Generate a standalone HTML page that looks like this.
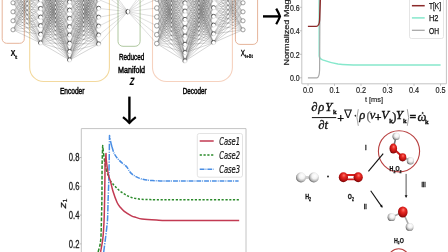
<!DOCTYPE html>
<html><head><meta charset="utf-8"><style>
html,body{margin:0;padding:0;background:#fff;overflow:hidden}
svg{display:block}
</style></head><body>
<svg width="448" height="252" viewBox="0 0 448 252" font-family="Liberation Sans, Arial, sans-serif">
<defs>
<linearGradient id="gn" x1="0.1" y1="0" x2="0.7" y2="1"><stop offset="0" stop-color="#111"/><stop offset="0.4" stop-color="#444"/><stop offset="0.75" stop-color="#bbb"/><stop offset="1" stop-color="#eee"/></linearGradient>
<linearGradient id="gb" x1="0" y1="0" x2="1" y2="0"><stop offset="0" stop-color="#222"/><stop offset="0.3" stop-color="#444"/><stop offset="0.6" stop-color="#ccc"/><stop offset="1" stop-color="#999"/></linearGradient>
<radialGradient id="gw" cx="0.58" cy="0.4" r="0.62" fx="0.6" fy="0.32"><stop offset="0" stop-color="#ffffff"/><stop offset="0.45" stop-color="#f2f2f2"/><stop offset="0.78" stop-color="#b4b4b4"/><stop offset="1" stop-color="#606060"/></radialGradient>
<radialGradient id="gr" cx="0.55" cy="0.4" r="0.6" fx="0.55" fy="0.3"><stop offset="0" stop-color="#ff7a70"/><stop offset="0.35" stop-color="#e82a24"/><stop offset="0.75" stop-color="#b81010"/><stop offset="1" stop-color="#700404"/></radialGradient>
</defs>
<rect width="448" height="252" fill="#fff"/>
<!-- network -->
<g fill="none" stroke-linecap="round">
<rect x="2.2" y="-20" width="22.1" height="63.3" rx="4.5" stroke="#e6b49a" stroke-width="1"/>
<rect x="29.7" y="-30" width="79.7" height="111.5" rx="14" stroke="#f3d99e" stroke-width="1.1"/>
<rect x="118" y="-20" width="22.1" height="66.3" rx="5" stroke="#b0c8a0" stroke-width="1"/>
<rect x="152.5" y="-30" width="79.9" height="111.5" rx="14" stroke="#f6d2bf" stroke-width="1.1"/>
<rect x="235.4" y="-20" width="22.2" height="64.4" rx="4.5" stroke="#e6b49a" stroke-width="1"/>
</g>
<path d="M13 -15.2L40.6 -25.8M13 -15.2L40.6 -17.2M13 -15.2L40.6 -8.6M13 -15.2L40.6 0M13 -15.2L40.6 8.6M13 -15.2L40.6 17.2M13 -15.2L40.6 25.8M13 -15.2L40.6 34.4M13 -15.2L40.6 43M13 -6.2L40.6 -25.8M13 -6.2L40.6 -17.2M13 -6.2L40.6 -8.6M13 -6.2L40.6 0M13 -6.2L40.6 8.6M13 -6.2L40.6 17.2M13 -6.2L40.6 25.8M13 -6.2L40.6 34.4M13 -6.2L40.6 43M13 2.8L40.6 -25.8M13 2.8L40.6 -17.2M13 2.8L40.6 -8.6M13 2.8L40.6 0M13 2.8L40.6 8.6M13 2.8L40.6 17.2M13 2.8L40.6 25.8M13 2.8L40.6 34.4M13 2.8L40.6 43M13 11.8L40.6 -25.8M13 11.8L40.6 -17.2M13 11.8L40.6 -8.6M13 11.8L40.6 0M13 11.8L40.6 8.6M13 11.8L40.6 17.2M13 11.8L40.6 25.8M13 11.8L40.6 34.4M13 11.8L40.6 43M13 20.8L40.6 -25.8M13 20.8L40.6 -17.2M13 20.8L40.6 -8.6M13 20.8L40.6 0M13 20.8L40.6 8.6M13 20.8L40.6 17.2M13 20.8L40.6 25.8M13 20.8L40.6 34.4M13 20.8L40.6 43M13 29.8L40.6 -25.8M13 29.8L40.6 -17.2M13 29.8L40.6 -8.6M13 29.8L40.6 0M13 29.8L40.6 8.6M13 29.8L40.6 17.2M13 29.8L40.6 25.8M13 29.8L40.6 34.4M13 29.8L40.6 43M40.6 -25.8L69.6 -31.3M40.6 -25.8L69.6 -23M40.6 -25.8L69.6 -14.7M40.6 -25.8L69.6 -6.4M40.6 -25.8L69.6 1.9M40.6 -25.8L69.6 10.2M40.6 -25.8L69.6 18.5M40.6 -25.8L69.6 26.8M40.6 -25.8L69.6 35.1M40.6 -25.8L69.6 43.4M40.6 -25.8L69.6 51.7M40.6 -25.8L69.6 60M40.6 -17.2L69.6 -31.3M40.6 -17.2L69.6 -23M40.6 -17.2L69.6 -14.7M40.6 -17.2L69.6 -6.4M40.6 -17.2L69.6 1.9M40.6 -17.2L69.6 10.2M40.6 -17.2L69.6 18.5M40.6 -17.2L69.6 26.8M40.6 -17.2L69.6 35.1M40.6 -17.2L69.6 43.4M40.6 -17.2L69.6 51.7M40.6 -17.2L69.6 60M40.6 -8.6L69.6 -31.3M40.6 -8.6L69.6 -23M40.6 -8.6L69.6 -14.7M40.6 -8.6L69.6 -6.4M40.6 -8.6L69.6 1.9M40.6 -8.6L69.6 10.2M40.6 -8.6L69.6 18.5M40.6 -8.6L69.6 26.8M40.6 -8.6L69.6 35.1M40.6 -8.6L69.6 43.4M40.6 -8.6L69.6 51.7M40.6 -8.6L69.6 60M40.6 0L69.6 -31.3M40.6 0L69.6 -23M40.6 0L69.6 -14.7M40.6 0L69.6 -6.4M40.6 0L69.6 1.9M40.6 0L69.6 10.2M40.6 0L69.6 18.5M40.6 0L69.6 26.8M40.6 0L69.6 35.1M40.6 0L69.6 43.4M40.6 0L69.6 51.7M40.6 0L69.6 60M40.6 8.6L69.6 -31.3M40.6 8.6L69.6 -23M40.6 8.6L69.6 -14.7M40.6 8.6L69.6 -6.4M40.6 8.6L69.6 1.9M40.6 8.6L69.6 10.2M40.6 8.6L69.6 18.5M40.6 8.6L69.6 26.8M40.6 8.6L69.6 35.1M40.6 8.6L69.6 43.4M40.6 8.6L69.6 51.7M40.6 8.6L69.6 60M40.6 17.2L69.6 -31.3M40.6 17.2L69.6 -23M40.6 17.2L69.6 -14.7M40.6 17.2L69.6 -6.4M40.6 17.2L69.6 1.9M40.6 17.2L69.6 10.2M40.6 17.2L69.6 18.5M40.6 17.2L69.6 26.8M40.6 17.2L69.6 35.1M40.6 17.2L69.6 43.4M40.6 17.2L69.6 51.7M40.6 17.2L69.6 60M40.6 25.8L69.6 -31.3M40.6 25.8L69.6 -23M40.6 25.8L69.6 -14.7M40.6 25.8L69.6 -6.4M40.6 25.8L69.6 1.9M40.6 25.8L69.6 10.2M40.6 25.8L69.6 18.5M40.6 25.8L69.6 26.8M40.6 25.8L69.6 35.1M40.6 25.8L69.6 43.4M40.6 25.8L69.6 51.7M40.6 25.8L69.6 60M40.6 34.4L69.6 -31.3M40.6 34.4L69.6 -23M40.6 34.4L69.6 -14.7M40.6 34.4L69.6 -6.4M40.6 34.4L69.6 1.9M40.6 34.4L69.6 10.2M40.6 34.4L69.6 18.5M40.6 34.4L69.6 26.8M40.6 34.4L69.6 35.1M40.6 34.4L69.6 43.4M40.6 34.4L69.6 51.7M40.6 34.4L69.6 60M40.6 43L69.6 -31.3M40.6 43L69.6 -23M40.6 43L69.6 -14.7M40.6 43L69.6 -6.4M40.6 43L69.6 1.9M40.6 43L69.6 10.2M40.6 43L69.6 18.5M40.6 43L69.6 26.8M40.6 43L69.6 35.1M40.6 43L69.6 43.4M40.6 43L69.6 51.7M40.6 43L69.6 60M69.6 -31.3L98.7 -27.2M69.6 -31.3L98.7 -18.3M69.6 -31.3L98.7 -9.4M69.6 -31.3L98.7 -0.5M69.6 -31.3L98.7 8.4M69.6 -31.3L98.7 17.3M69.6 -31.3L98.7 26.2M69.6 -31.3L98.7 35.1M69.6 -31.3L98.7 44M69.6 -23L98.7 -27.2M69.6 -23L98.7 -18.3M69.6 -23L98.7 -9.4M69.6 -23L98.7 -0.5M69.6 -23L98.7 8.4M69.6 -23L98.7 17.3M69.6 -23L98.7 26.2M69.6 -23L98.7 35.1M69.6 -23L98.7 44M69.6 -14.7L98.7 -27.2M69.6 -14.7L98.7 -18.3M69.6 -14.7L98.7 -9.4M69.6 -14.7L98.7 -0.5M69.6 -14.7L98.7 8.4M69.6 -14.7L98.7 17.3M69.6 -14.7L98.7 26.2M69.6 -14.7L98.7 35.1M69.6 -14.7L98.7 44M69.6 -6.4L98.7 -27.2M69.6 -6.4L98.7 -18.3M69.6 -6.4L98.7 -9.4M69.6 -6.4L98.7 -0.5M69.6 -6.4L98.7 8.4M69.6 -6.4L98.7 17.3M69.6 -6.4L98.7 26.2M69.6 -6.4L98.7 35.1M69.6 -6.4L98.7 44M69.6 1.9L98.7 -27.2M69.6 1.9L98.7 -18.3M69.6 1.9L98.7 -9.4M69.6 1.9L98.7 -0.5M69.6 1.9L98.7 8.4M69.6 1.9L98.7 17.3M69.6 1.9L98.7 26.2M69.6 1.9L98.7 35.1M69.6 1.9L98.7 44M69.6 10.2L98.7 -27.2M69.6 10.2L98.7 -18.3M69.6 10.2L98.7 -9.4M69.6 10.2L98.7 -0.5M69.6 10.2L98.7 8.4M69.6 10.2L98.7 17.3M69.6 10.2L98.7 26.2M69.6 10.2L98.7 35.1M69.6 10.2L98.7 44M69.6 18.5L98.7 -27.2M69.6 18.5L98.7 -18.3M69.6 18.5L98.7 -9.4M69.6 18.5L98.7 -0.5M69.6 18.5L98.7 8.4M69.6 18.5L98.7 17.3M69.6 18.5L98.7 26.2M69.6 18.5L98.7 35.1M69.6 18.5L98.7 44M69.6 26.8L98.7 -27.2M69.6 26.8L98.7 -18.3M69.6 26.8L98.7 -9.4M69.6 26.8L98.7 -0.5M69.6 26.8L98.7 8.4M69.6 26.8L98.7 17.3M69.6 26.8L98.7 26.2M69.6 26.8L98.7 35.1M69.6 26.8L98.7 44M69.6 35.1L98.7 -27.2M69.6 35.1L98.7 -18.3M69.6 35.1L98.7 -9.4M69.6 35.1L98.7 -0.5M69.6 35.1L98.7 8.4M69.6 35.1L98.7 17.3M69.6 35.1L98.7 26.2M69.6 35.1L98.7 35.1M69.6 35.1L98.7 44M69.6 43.4L98.7 -27.2M69.6 43.4L98.7 -18.3M69.6 43.4L98.7 -9.4M69.6 43.4L98.7 -0.5M69.6 43.4L98.7 8.4M69.6 43.4L98.7 17.3M69.6 43.4L98.7 26.2M69.6 43.4L98.7 35.1M69.6 43.4L98.7 44M69.6 51.7L98.7 -27.2M69.6 51.7L98.7 -18.3M69.6 51.7L98.7 -9.4M69.6 51.7L98.7 -0.5M69.6 51.7L98.7 8.4M69.6 51.7L98.7 17.3M69.6 51.7L98.7 26.2M69.6 51.7L98.7 35.1M69.6 51.7L98.7 44M69.6 60L98.7 -27.2M69.6 60L98.7 -18.3M69.6 60L98.7 -9.4M69.6 60L98.7 -0.5M69.6 60L98.7 8.4M69.6 60L98.7 17.3M69.6 60L98.7 26.2M69.6 60L98.7 35.1M69.6 60L98.7 44M156.8 -27.6L185 -30.3M156.8 -27.6L185 -22M156.8 -27.6L185 -13.7M156.8 -27.6L185 -5.4M156.8 -27.6L185 2.9M156.8 -27.6L185 11.2M156.8 -27.6L185 19.5M156.8 -27.6L185 27.8M156.8 -27.6L185 36.1M156.8 -27.6L185 44.4M156.8 -27.6L185 52.7M156.8 -27.6L185 61M156.8 -18.7L185 -30.3M156.8 -18.7L185 -22M156.8 -18.7L185 -13.7M156.8 -18.7L185 -5.4M156.8 -18.7L185 2.9M156.8 -18.7L185 11.2M156.8 -18.7L185 19.5M156.8 -18.7L185 27.8M156.8 -18.7L185 36.1M156.8 -18.7L185 44.4M156.8 -18.7L185 52.7M156.8 -18.7L185 61M156.8 -9.8L185 -30.3M156.8 -9.8L185 -22M156.8 -9.8L185 -13.7M156.8 -9.8L185 -5.4M156.8 -9.8L185 2.9M156.8 -9.8L185 11.2M156.8 -9.8L185 19.5M156.8 -9.8L185 27.8M156.8 -9.8L185 36.1M156.8 -9.8L185 44.4M156.8 -9.8L185 52.7M156.8 -9.8L185 61M156.8 -0.9L185 -30.3M156.8 -0.9L185 -22M156.8 -0.9L185 -13.7M156.8 -0.9L185 -5.4M156.8 -0.9L185 2.9M156.8 -0.9L185 11.2M156.8 -0.9L185 19.5M156.8 -0.9L185 27.8M156.8 -0.9L185 36.1M156.8 -0.9L185 44.4M156.8 -0.9L185 52.7M156.8 -0.9L185 61M156.8 8L185 -30.3M156.8 8L185 -22M156.8 8L185 -13.7M156.8 8L185 -5.4M156.8 8L185 2.9M156.8 8L185 11.2M156.8 8L185 19.5M156.8 8L185 27.8M156.8 8L185 36.1M156.8 8L185 44.4M156.8 8L185 52.7M156.8 8L185 61M156.8 16.9L185 -30.3M156.8 16.9L185 -22M156.8 16.9L185 -13.7M156.8 16.9L185 -5.4M156.8 16.9L185 2.9M156.8 16.9L185 11.2M156.8 16.9L185 19.5M156.8 16.9L185 27.8M156.8 16.9L185 36.1M156.8 16.9L185 44.4M156.8 16.9L185 52.7M156.8 16.9L185 61M156.8 25.8L185 -30.3M156.8 25.8L185 -22M156.8 25.8L185 -13.7M156.8 25.8L185 -5.4M156.8 25.8L185 2.9M156.8 25.8L185 11.2M156.8 25.8L185 19.5M156.8 25.8L185 27.8M156.8 25.8L185 36.1M156.8 25.8L185 44.4M156.8 25.8L185 52.7M156.8 25.8L185 61M156.8 34.7L185 -30.3M156.8 34.7L185 -22M156.8 34.7L185 -13.7M156.8 34.7L185 -5.4M156.8 34.7L185 2.9M156.8 34.7L185 11.2M156.8 34.7L185 19.5M156.8 34.7L185 27.8M156.8 34.7L185 36.1M156.8 34.7L185 44.4M156.8 34.7L185 52.7M156.8 34.7L185 61M156.8 43.6L185 -30.3M156.8 43.6L185 -22M156.8 43.6L185 -13.7M156.8 43.6L185 -5.4M156.8 43.6L185 2.9M156.8 43.6L185 11.2M156.8 43.6L185 19.5M156.8 43.6L185 27.8M156.8 43.6L185 36.1M156.8 43.6L185 44.4M156.8 43.6L185 52.7M156.8 43.6L185 61M185 -30.3L213.6 -27M185 -30.3L213.6 -18.3M185 -30.3L213.6 -9.6M185 -30.3L213.6 -0.9M185 -30.3L213.6 7.8M185 -30.3L213.6 16.5M185 -30.3L213.6 25.2M185 -30.3L213.6 33.9M185 -30.3L213.6 42.6M185 -22L213.6 -27M185 -22L213.6 -18.3M185 -22L213.6 -9.6M185 -22L213.6 -0.9M185 -22L213.6 7.8M185 -22L213.6 16.5M185 -22L213.6 25.2M185 -22L213.6 33.9M185 -22L213.6 42.6M185 -13.7L213.6 -27M185 -13.7L213.6 -18.3M185 -13.7L213.6 -9.6M185 -13.7L213.6 -0.9M185 -13.7L213.6 7.8M185 -13.7L213.6 16.5M185 -13.7L213.6 25.2M185 -13.7L213.6 33.9M185 -13.7L213.6 42.6M185 -5.4L213.6 -27M185 -5.4L213.6 -18.3M185 -5.4L213.6 -9.6M185 -5.4L213.6 -0.9M185 -5.4L213.6 7.8M185 -5.4L213.6 16.5M185 -5.4L213.6 25.2M185 -5.4L213.6 33.9M185 -5.4L213.6 42.6M185 2.9L213.6 -27M185 2.9L213.6 -18.3M185 2.9L213.6 -9.6M185 2.9L213.6 -0.9M185 2.9L213.6 7.8M185 2.9L213.6 16.5M185 2.9L213.6 25.2M185 2.9L213.6 33.9M185 2.9L213.6 42.6M185 11.2L213.6 -27M185 11.2L213.6 -18.3M185 11.2L213.6 -9.6M185 11.2L213.6 -0.9M185 11.2L213.6 7.8M185 11.2L213.6 16.5M185 11.2L213.6 25.2M185 11.2L213.6 33.9M185 11.2L213.6 42.6M185 19.5L213.6 -27M185 19.5L213.6 -18.3M185 19.5L213.6 -9.6M185 19.5L213.6 -0.9M185 19.5L213.6 7.8M185 19.5L213.6 16.5M185 19.5L213.6 25.2M185 19.5L213.6 33.9M185 19.5L213.6 42.6M185 27.8L213.6 -27M185 27.8L213.6 -18.3M185 27.8L213.6 -9.6M185 27.8L213.6 -0.9M185 27.8L213.6 7.8M185 27.8L213.6 16.5M185 27.8L213.6 25.2M185 27.8L213.6 33.9M185 27.8L213.6 42.6M185 36.1L213.6 -27M185 36.1L213.6 -18.3M185 36.1L213.6 -9.6M185 36.1L213.6 -0.9M185 36.1L213.6 7.8M185 36.1L213.6 16.5M185 36.1L213.6 25.2M185 36.1L213.6 33.9M185 36.1L213.6 42.6M185 44.4L213.6 -27M185 44.4L213.6 -18.3M185 44.4L213.6 -9.6M185 44.4L213.6 -0.9M185 44.4L213.6 7.8M185 44.4L213.6 16.5M185 44.4L213.6 25.2M185 44.4L213.6 33.9M185 44.4L213.6 42.6M185 52.7L213.6 -27M185 52.7L213.6 -18.3M185 52.7L213.6 -9.6M185 52.7L213.6 -0.9M185 52.7L213.6 7.8M185 52.7L213.6 16.5M185 52.7L213.6 25.2M185 52.7L213.6 33.9M185 52.7L213.6 42.6M185 61L213.6 -27M185 61L213.6 -18.3M185 61L213.6 -9.6M185 61L213.6 -0.9M185 61L213.6 7.8M185 61L213.6 16.5M185 61L213.6 25.2M185 61L213.6 33.9M185 61L213.6 42.6M213.6 -27L243 -15.2M213.6 -27L243 -6.2M213.6 -27L243 2.8M213.6 -27L243 11.8M213.6 -27L243 20.8M213.6 -27L243 29.8M213.6 -18.3L243 -15.2M213.6 -18.3L243 -6.2M213.6 -18.3L243 2.8M213.6 -18.3L243 11.8M213.6 -18.3L243 20.8M213.6 -18.3L243 29.8M213.6 -9.6L243 -15.2M213.6 -9.6L243 -6.2M213.6 -9.6L243 2.8M213.6 -9.6L243 11.8M213.6 -9.6L243 20.8M213.6 -9.6L243 29.8M213.6 -0.9L243 -15.2M213.6 -0.9L243 -6.2M213.6 -0.9L243 2.8M213.6 -0.9L243 11.8M213.6 -0.9L243 20.8M213.6 -0.9L243 29.8M213.6 7.8L243 -15.2M213.6 7.8L243 -6.2M213.6 7.8L243 2.8M213.6 7.8L243 11.8M213.6 7.8L243 20.8M213.6 7.8L243 29.8M213.6 16.5L243 -15.2M213.6 16.5L243 -6.2M213.6 16.5L243 2.8M213.6 16.5L243 11.8M213.6 16.5L243 20.8M213.6 16.5L243 29.8M213.6 25.2L243 -15.2M213.6 25.2L243 -6.2M213.6 25.2L243 2.8M213.6 25.2L243 11.8M213.6 25.2L243 20.8M213.6 25.2L243 29.8M213.6 33.9L243 -15.2M213.6 33.9L243 -6.2M213.6 33.9L243 2.8M213.6 33.9L243 11.8M213.6 33.9L243 20.8M213.6 33.9L243 29.8M213.6 42.6L243 -15.2M213.6 42.6L243 -6.2M213.6 42.6L243 2.8M213.6 42.6L243 11.8M213.6 42.6L243 20.8M213.6 42.6L243 29.8" stroke="#555" stroke-opacity="0.5" stroke-width="0.5" fill="none"/>
<path d="M98.7 -27.2L127.9 11.7M98.7 -18.3L127.9 11.7M98.7 -9.4L127.9 11.7M98.7 -0.5L127.9 11.7M98.7 8.4L127.9 11.7M98.7 17.3L127.9 11.7M98.7 26.2L127.9 11.7M98.7 35.1L127.9 11.7M98.7 44L127.9 11.7M127.9 11.7L156.8 -27.6M127.9 11.7L156.8 -18.7M127.9 11.7L156.8 -9.8M127.9 11.7L156.8 -0.9M127.9 11.7L156.8 8M127.9 11.7L156.8 16.9M127.9 11.7L156.8 25.8M127.9 11.7L156.8 34.7M127.9 11.7L156.8 43.6" stroke="#555" stroke-opacity="0.36" stroke-width="0.5" fill="none"/>
<g fill="#fff" stroke="url(#gn)" stroke-width="0.75"><circle cx="13" cy="2.8" r="2.1" fill="#fff" stroke="#777" stroke-width="0.7"/><circle cx="13" cy="11.8" r="2.1" fill="#fff" stroke="#777" stroke-width="0.7"/><circle cx="13" cy="20.8" r="2.1" fill="#fff" stroke="#777" stroke-width="0.7"/><circle cx="13" cy="29.8" r="2.1" fill="#fff" stroke="#777" stroke-width="0.7"/><circle cx="40.6" cy="0" r="2.15"/><circle cx="40.6" cy="8.6" r="2.15"/><circle cx="40.6" cy="17.2" r="2.15"/><circle cx="40.6" cy="25.8" r="2.15"/><circle cx="40.6" cy="34.4" r="2.15"/><circle cx="40.6" cy="43" r="2.15"/><circle cx="69.6" cy="1.9" r="2.15"/><circle cx="69.6" cy="10.2" r="2.15"/><circle cx="69.6" cy="18.5" r="2.15"/><circle cx="69.6" cy="26.8" r="2.15"/><circle cx="69.6" cy="35.1" r="2.15"/><circle cx="69.6" cy="43.4" r="2.15"/><circle cx="69.6" cy="51.7" r="2.15"/><circle cx="69.6" cy="60" r="2.15"/><circle cx="98.7" cy="-0.5" r="2.15"/><circle cx="98.7" cy="8.4" r="2.15"/><circle cx="98.7" cy="17.3" r="2.15"/><circle cx="98.7" cy="26.2" r="2.15"/><circle cx="98.7" cy="35.1" r="2.15"/><circle cx="98.7" cy="44" r="2.15"/><ellipse cx="127.9" cy="11.7" rx="1.9" ry="2.4" fill="#fff" stroke="url(#gb)" stroke-width="1"/><circle cx="156.8" cy="-0.9" r="2.3" fill="#fff" stroke="#777" stroke-width="0.7"/><circle cx="156.8" cy="8" r="2.3" fill="#fff" stroke="#777" stroke-width="0.7"/><circle cx="156.8" cy="16.9" r="2.3" fill="#fff" stroke="#777" stroke-width="0.7"/><circle cx="156.8" cy="25.8" r="2.3" fill="#fff" stroke="#777" stroke-width="0.7"/><circle cx="156.8" cy="34.7" r="2.3" fill="#fff" stroke="#777" stroke-width="0.7"/><circle cx="156.8" cy="43.6" r="2.3" fill="#fff" stroke="#777" stroke-width="0.7"/><circle cx="185" cy="2.9" r="2.15"/><circle cx="185" cy="11.2" r="2.15"/><circle cx="185" cy="19.5" r="2.15"/><circle cx="185" cy="27.8" r="2.15"/><circle cx="185" cy="36.1" r="2.15"/><circle cx="185" cy="44.4" r="2.15"/><circle cx="185" cy="52.7" r="2.15"/><circle cx="185" cy="61" r="2.15"/><circle cx="213.6" cy="-0.9" r="2.15"/><circle cx="213.6" cy="7.8" r="2.15"/><circle cx="213.6" cy="16.5" r="2.15"/><circle cx="213.6" cy="25.2" r="2.15"/><circle cx="213.6" cy="33.9" r="2.15"/><circle cx="213.6" cy="42.6" r="2.15"/><circle cx="243" cy="2.8" r="2.1" fill="#fff" stroke="#777" stroke-width="0.7"/><circle cx="243" cy="11.8" r="2.1" fill="#fff" stroke="#777" stroke-width="0.7"/><circle cx="243" cy="20.8" r="2.1" fill="#fff" stroke="#777" stroke-width="0.7"/><circle cx="243" cy="29.8" r="2.1" fill="#fff" stroke="#777" stroke-width="0.7"/></g>
<!-- labels -->
<g fill="#000" stroke="#000" stroke-width="0.2">
<text x="10.8" y="55.8" font-size="9.4" textLength="4.6" lengthAdjust="spacingAndGlyphs" font-weight="bold">X</text>
<text x="14.9" y="58.8" font-size="5.8" textLength="2.2" lengthAdjust="spacingAndGlyphs" font-weight="bold">t</text>
<text x="59.9" y="93.8" font-size="8.8" textLength="24.5" lengthAdjust="spacingAndGlyphs" stroke-width="0.45">Encoder</text>
<text x="118.9" y="59.8" font-size="8.8" textLength="25.3" lengthAdjust="spacingAndGlyphs" stroke-width="0.45">Reduced</text>
<text x="117.9" y="72.7" font-size="8.8" textLength="27.2" lengthAdjust="spacingAndGlyphs" stroke-width="0.45">Manifold</text>
<text x="0" y="0" transform="translate(129.3 84.8) skewX(-9)" font-size="10.4" textLength="4.5" lengthAdjust="spacingAndGlyphs" font-weight="bold">Z</text>
<text x="182.8" y="93.8" font-size="8.8" textLength="23.8" lengthAdjust="spacingAndGlyphs" stroke-width="0.45">Decoder</text>
<text x="240.7" y="55.8" font-size="9.8" textLength="4.2" lengthAdjust="spacingAndGlyphs" stroke-width="0.35">X</text>
<text x="244.9" y="58.4" font-size="5.4" textLength="8" lengthAdjust="spacingAndGlyphs" font-weight="bold">t+δt</text>
</g>
<!-- arrows -->
<g stroke="#000" fill="none" stroke-width="2.4" stroke-linecap="butt">
<path d="M263 16.4H279.2"/>
<path d="M276.2 8.6Q278.8 13 280 16.4Q278.8 19.8 276.2 24.2" stroke-width="2.2"/>
<path d="M129.4 96.6V122"/>
<path d="M123 117.2Q126.6 120 129.4 123Q132.2 120 135.8 117.2" stroke-width="2.2"/>
</g>
<!-- ===== top-right plot ===== -->
<g>
<path d="M301.8 -5V83.8H446.4V-5" fill="none" stroke="#c4c4c4" stroke-width="1"/>
<g stroke="#aaa" stroke-width="0.7">
<path d="M299.6 77.8h2.2M299.6 54.3h2.2M299.6 30.8h2.2M299.6 7.3h2.2"/>
<path d="M308 83.8v2M334.5 83.8v2M361 83.8v2M387.5 83.8v2M414 83.8v2M440.5 83.8v2"/>
</g>
<g font-size="8.8" fill="#1a1a1a" stroke="#1a1a1a" stroke-width="0.2" text-anchor="end">
<text x="299.6" y="81" textLength="9.7" lengthAdjust="spacingAndGlyphs">0.0</text>
<text x="299.6" y="57.5" textLength="9.7" lengthAdjust="spacingAndGlyphs">0.2</text>
<text x="299.6" y="34" textLength="9.7" lengthAdjust="spacingAndGlyphs">0.4</text>
<text x="299.6" y="10.5" textLength="9.7" lengthAdjust="spacingAndGlyphs">0.6</text>
</g>
<g font-size="8.8" fill="#1a1a1a" stroke="#1a1a1a" stroke-width="0.15" text-anchor="middle">
<text x="308" y="93.1" textLength="10.2" lengthAdjust="spacingAndGlyphs">0.0</text>
<text x="334.5" y="93.1" textLength="10.2" lengthAdjust="spacingAndGlyphs">0.1</text>
<text x="361" y="93.1" textLength="10.2" lengthAdjust="spacingAndGlyphs">0.2</text>
<text x="387.5" y="93.1" textLength="10.2" lengthAdjust="spacingAndGlyphs">0.3</text>
<text x="414" y="93.1" textLength="10.2" lengthAdjust="spacingAndGlyphs">0.4</text>
<text x="440.5" y="93.1" textLength="10.2" lengthAdjust="spacingAndGlyphs">0.5</text>
<text x="374" y="102.4" font-size="7.4">t [ms]</text>
</g>
<text transform="translate(288.6 65.6) rotate(-90) scale(1 0.8)" font-size="9.1" fill="#1a1a1a" stroke="#1a1a1a" stroke-width="0.25">Normalized Magnitude</text>
<g fill="none" stroke-width="1.5" stroke-linejoin="round">
<path d="M319.2 -5V56Q319.4 58.6 322.6 59.9Q330 62.7 338 63.9Q346 64.9 360 64.9H440.6" stroke="#86e8cc"/>
<path d="M307.9 77.9H316.8Q319.3 77.9 319.6 70L320 -5" stroke="#a8a8a8" stroke-width="1.2"/>
<path d="M307.9 26.4H316.2Q319.2 26.4 319.6 20L320.5 -5" stroke="#8c2a2a" stroke-width="1.4"/>
</g>
<rect x="409.5" y="-6" width="34" height="44.5" rx="2" fill="#fff" fill-opacity="0.9" stroke="#dedede" stroke-width="0.8"/>
<g stroke-width="1.5">
<path d="M411.9 5.7H424.7" stroke="#8c2a2a"/>
<path d="M411.9 17.9H424.7" stroke="#86e8cc"/>
<path d="M411.9 30.3H424.7" stroke="#a8a8a8" stroke-width="1.3"/>
</g>
<g font-size="8.8" fill="#111" stroke="#111" stroke-width="0.25">
<text x="429" y="8.9" textLength="12" lengthAdjust="spacingAndGlyphs">T[K]</text>
<text x="429" y="21.1" textLength="9.5" lengthAdjust="spacingAndGlyphs">H2</text>
<text x="429" y="33.5" textLength="10" lengthAdjust="spacingAndGlyphs">OH</text>
</g>
</g>
<!-- ===== equation ===== -->
<g font-family="Liberation Serif, serif" font-style="italic" fill="#111" stroke="#111" stroke-width="0.35">
<text x="311.4" y="111.4" font-size="12.5">∂</text>
<text x="318.2" y="111.4" font-size="12.5">ρ</text>
<text x="325.2" y="111.0" font-size="12.5">Y</text>
<text x="333.1" y="113.9" font-size="6.5" font-weight="bold" font-style="normal">k</text>
<path d="M311.9 117.6H336.2" stroke="#111" stroke-width="1"/>
<text x="318.5" y="128.5" font-size="12.5">∂</text>
<text x="324.6" y="128.5" font-size="12.5">t</text>
<text x="337.2" y="122" font-size="12" font-style="normal" font-weight="bold">+</text>
<text x="344" y="118.4" font-size="12" font-style="normal" stroke="none">∇</text>
<text x="353.8" y="119.2" font-size="10" font-style="normal">·</text>
<path d="M358.3 109.2Q355.6 117.5 358.3 125.8" fill="none" stroke="#9a9a9a" stroke-width="0.9"/>
<text x="359.2" y="118.6" font-size="12.5">ρ</text>
<text x="366.6" y="120.3" font-size="12.5" font-style="normal" fill="#666" stroke="#666" stroke-width="0.2">(</text>
<text x="369.8" y="118.6" font-size="12.5">v</text>
<text x="374.8" y="120.6" font-size="12" font-style="normal" font-weight="bold">+</text>
<text x="381.2" y="118.6" font-size="12.5">V</text>
<text x="389.2" y="122.8" font-size="6.5" font-weight="bold" font-style="normal">k</text>
<text x="392.3" y="120.5" font-size="12.5" font-style="normal" fill="#333">)</text>
<text x="396" y="118.8" font-size="12.5">Y</text>
<text x="403" y="122.8" font-size="6.5" font-weight="bold" font-style="normal">k</text>
<path d="M407.3 109.2Q410 117.5 407.3 125.8" fill="none" stroke="#9a9a9a" stroke-width="0.9"/>
<text x="409.6" y="121" font-size="12" font-style="normal" font-weight="bold">=</text>
<text x="417.4" y="120.6" font-size="12.5">ω</text>
<circle cx="422.6" cy="113" r="0.75"/>
<text x="425" y="123.8" font-size="6.5" font-weight="bold" font-style="normal">k</text>
</g>
<!-- ===== molecules ===== -->
<g>
<path d="M301 177.5H313.8" stroke="#cfcfcf" stroke-width="3"/>
<circle cx="301" cy="177.5" r="5" fill="url(#gw)"/>
<circle cx="313.8" cy="177.5" r="5" fill="url(#gw)"/>
<circle cx="328" cy="176.5" r="0.95" fill="#222"/>
<path d="M343.4 175H358.2M343.4 179.4H358.2" stroke="#d42020" stroke-width="1.9"/>
<ellipse cx="343.4" cy="177.2" rx="4.6" ry="5" fill="url(#gr)"/>
<ellipse cx="358.2" cy="177.2" rx="4.6" ry="5" fill="url(#gr)"/>
<g font-size="7" font-weight="bold" fill="#111" stroke="#111" stroke-width="0.3" text-anchor="middle">
<text x="305.2" y="199.2" text-anchor="start" textLength="5.8" lengthAdjust="spacingAndGlyphs">H<tspan font-size="4.6" dy="1.4">2</tspan></text>
<text x="347.8" y="199.2" text-anchor="start" textLength="6" lengthAdjust="spacingAndGlyphs">O<tspan font-size="4.6" dy="1.4">2</tspan></text>
</g>
<circle cx="399" cy="151.3" r="20.6" fill="none" stroke="#b84040" stroke-width="1.1"/>
<path d="M396.1 136.4L393.3 148.6" stroke="#777" stroke-width="1.6"/>
<path d="M393.3 148.6L402.6 157.1" stroke="#c81818" stroke-width="2"/>
<path d="M402.6 157.1L410.4 160.7" stroke="#999" stroke-width="1.6"/>
<circle cx="396.1" cy="136.4" r="3.6" fill="url(#gw)"/>
<ellipse cx="393.3" cy="148.6" rx="3.8" ry="5" fill="url(#gr)"/>
<ellipse cx="402.6" cy="157.3" rx="3.7" ry="4.1" fill="url(#gr)"/>
<circle cx="410.4" cy="160.9" r="3.6" fill="url(#gw)"/>
<text x="389.6" y="171.4" font-size="6.4" font-weight="bold" fill="#111" stroke="#111" stroke-width="0.25" textLength="12" lengthAdjust="spacingAndGlyphs">H<tspan font-size="4.4" dy="1.2">2</tspan><tspan dy="-1.2">O</tspan><tspan font-size="4.4" dy="1.2">2</tspan></text>
<g stroke="#111" stroke-width="1.1" fill="none">
<path d="M368.4 171.3L383.2 153.7"/>
<path d="M370.7 190.7L382.1 207.1"/>
</g>
<path d="M406.1 173.9V196.7" stroke="#555" stroke-width="1"/>
<g fill="#111">

<path d="M382.6 207.8L382.1 204.4L379.9 205.9Z"/>
<path d="M406.1 198L404.7 195.2H407.5Z"/>
</g>
<g fill="#222" stroke="#222" stroke-width="0.3" font-weight="bold" text-anchor="middle">
<text x="365.8" y="150" font-size="7" textLength="1.6" lengthAdjust="spacingAndGlyphs">I</text>
<text x="365.3" y="208.6" font-size="7" textLength="3" lengthAdjust="spacingAndGlyphs">II</text>
<text x="423.6" y="187.4" font-size="7" textLength="4.4" lengthAdjust="spacingAndGlyphs">III</text>
</g>
<path d="M391.5 217.2L402.8 212L409.6 226.9" stroke="#aaa" stroke-width="1.6" fill="none"/>
<ellipse cx="402.8" cy="212" rx="4.8" ry="5.6" fill="url(#gr)"/>
<circle cx="391.5" cy="217.2" r="3.9" fill="url(#gw)"/>
<circle cx="409.6" cy="226.9" r="3.9" fill="url(#gw)"/>
<text x="394" y="242.6" font-size="7" font-weight="bold" fill="#111" stroke="#111" stroke-width="0.25" textLength="9.8" lengthAdjust="spacingAndGlyphs">H<tspan font-size="4.2" dy="1.3">2</tspan><tspan dy="-1.3">O</tspan></text>
<circle cx="398.7" cy="259" r="10.3" fill="none" stroke="#b84040" stroke-width="1.1"/>
</g>
<!-- ===== z plot ===== -->
<g>
<path d="M81.3 260V128.6H246V260" fill="none" stroke="#c4c4c4" stroke-width="1"/>
<g stroke="#666" stroke-width="0.8">
<path d="M79.6 157.5h1.7M79.6 186.3h1.7M79.6 215.1h1.7M79.6 243.9h1.7" stroke="#aaa"/>
</g>
<g font-size="10.2" fill="#1a1a1a" stroke="#1a1a1a" stroke-width="0.3" text-anchor="end">
<text x="79.4" y="161.2" textLength="10.6" lengthAdjust="spacingAndGlyphs">0.8</text>
<text x="79.4" y="190" textLength="10.6" lengthAdjust="spacingAndGlyphs">0.6</text>
<text x="79.4" y="218.8" textLength="10.6" lengthAdjust="spacingAndGlyphs">0.4</text>
<text x="79.4" y="247.6" textLength="10.6" lengthAdjust="spacingAndGlyphs">0.2</text>
</g>
<text transform="translate(65.6 208.6) rotate(-90) scale(1 0.8)" font-size="11" fill="#111" stroke="#111" stroke-width="0.3" font-family="DejaVu Sans, sans-serif" font-style="italic">z<tspan font-size="7" dy="2" font-style="normal" stroke-width="0.15">1</tspan></text>
<g fill="none" stroke-width="1.5" stroke-linejoin="round">
<path d="M98.1 252C98.29 251.3 99.71 246.6 100 245C100.29 243.4 100.81 240.5 101 236C101.19 231.5 101.79 207.1 101.9 200C102.01 192.9 102.02 170.45 102.1 165C102.18 159.55 102.64 147.45 102.7 145.5L102.7 145.5C102.98 147.92 103.8 155.95 104.4 160C105 164.05 105.98 168.17 106.3 169.8" stroke="#2a8a2a" stroke-dasharray="3.6 1.6"/>
<path d="M106.3 169.8C106.83 171.38 108.47 177.02 109.5 179.3C110.53 181.58 111.43 182.18 112.5 183.5C113.57 184.82 114.73 186 115.9 187.2C117.07 188.4 118.18 189.63 119.5 190.7C120.82 191.77 122.47 192.75 123.8 193.6C125.13 194.45 126.18 195.15 127.5 195.8C128.82 196.45 130.28 197.05 131.7 197.5C133.12 197.95 134.4 198.2 136 198.5C137.6 198.8 138.97 199.12 141.3 199.3C143.63 199.48 146.88 199.53 150 199.6C153.12 199.67 150 199.67 160 199.7C174.83 199.72 225.83 199.74 239 199.75" stroke="#2a8a2a" stroke-dasharray="2.2 1.6"/>
<path d="M103.7 252C103.9 250.45 105.32 239.7 105.7 236.5C106.08 233.3 107.26 223.65 107.5 220C107.74 216.35 107.97 204 108.1 200C108.23 196 108.69 184 108.8 180C108.91 176 109.13 164.46 109.2 160C109.27 155.54 109.47 137.86 109.5 135.4L109.5 135.4C109.67 136.33 110.08 139.07 110.5 141C110.92 142.93 111.75 146 112 147" stroke="#4a8ee4" stroke-dasharray="6.4 1.3 1.2 1.3"/>
<path d="M112 147C112.38 148.12 113.3 151.7 114.3 153.7C115.3 155.7 116.57 157.33 118 159C119.43 160.67 121.65 162.6 122.9 163.7C124.15 164.8 124.73 164.9 125.5 165.6C126.27 166.3 126.85 166.97 127.5 167.9C128.15 168.83 128.73 170.25 129.4 171.2C130.07 172.15 130.58 172.78 131.5 173.6C132.42 174.42 133.73 175.38 134.9 176.1C136.07 176.82 137.17 177.37 138.5 177.9C139.83 178.43 141.48 178.93 142.9 179.3C144.32 179.67 145.42 179.88 147 180.1C148.58 180.32 150.23 180.47 152.4 180.6C154.57 180.73 157.07 180.83 160 180.9C162.93 180.97 160 180.98 170 181C183.1 181.02 227.17 181 238.6 181" stroke="#4a8ee4" stroke-dasharray="4.8 1 0.9 1"/>
<path d="M100.6 252C100.82 250.7 102.45 242.2 102.8 239C103.15 235.8 103.92 223.9 104.1 220C104.28 216.1 104.52 204 104.6 200C104.68 196 104.85 183.5 104.9 180C104.95 176.5 104.99 167.64 105.1 165C105.21 162.36 105.91 154.74 106 153.6L106 153.6C106.05 154.67 106.08 157.6 106.3 160C106.52 162.4 106.93 165.42 107.3 168C107.67 170.58 107.98 173.33 108.5 175.5C109.02 177.67 109.67 178.42 110.4 181C111.13 183.58 111.78 187.42 112.9 191C114.02 194.58 115.83 199.75 117.1 202.5C118.37 205.25 119.3 206.02 120.5 207.5C121.7 208.98 122.48 210.02 124.3 211.4C126.12 212.78 129.45 214.8 131.4 215.8C133.35 216.8 134.23 216.87 136 217.4C137.77 217.93 138.6 218.55 142 219C145.4 219.45 151.73 219.85 156.4 220.1C161.07 220.35 156.4 220.42 170 220.5C183.8 220.58 227.67 220.58 239.2 220.6" stroke="#c23a52"/>
</g>
<rect x="197.3" y="133.5" width="45.2" height="43.7" rx="2" fill="#fff" fill-opacity="0.85" stroke="#dcdcdc" stroke-width="0.8"/>
<g stroke-width="1.5">
<path d="M199.7 141H213.7" stroke="#c23a52"/>
<path d="M199.7 155H213.7" stroke="#2a8a2a" stroke-dasharray="2.2 1.6"/>
<path d="M199.7 169.3H213.7" stroke="#4a8ee4" stroke-dasharray="4.8 1 0.9 1"/>
</g>
<g font-size="10" fill="#111" stroke="#111" stroke-width="0.2" font-style="italic" font-family="DejaVu Sans, sans-serif">
<text x="219.2" y="144.8" textLength="20.8" lengthAdjust="spacingAndGlyphs">Case1</text>
<text x="219.2" y="158.8" textLength="20.8" lengthAdjust="spacingAndGlyphs">Case2</text>
<text x="219.2" y="173.1" textLength="20.8" lengthAdjust="spacingAndGlyphs">Case3</text>
</g>
</g>
</svg>
</body></html>
